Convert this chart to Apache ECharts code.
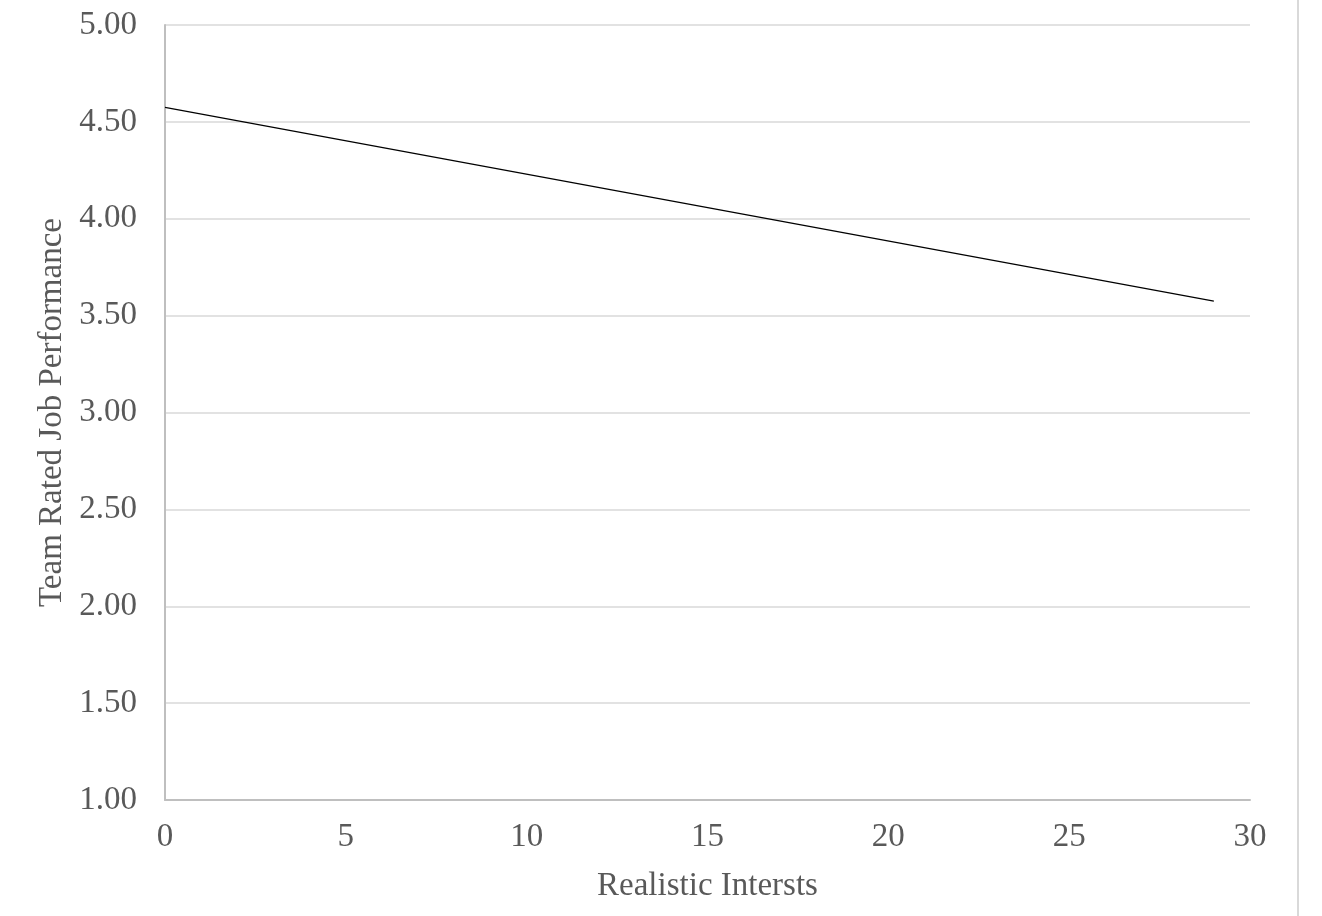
<!DOCTYPE html>
<html>
<head>
<meta charset="utf-8">
<script src="https://cdn.jsdelivr.net/npm/echarts@6/dist/echarts.min.js"></script>
<style>
  html, body { margin: 0; padding: 0; background: #fff; }
  #container { width: 1322px; height: 916px; }
</style>
</head>
<body>
<div id="container"></div>
<script>
// trend line end points
const interestValues = [0, 29];
const performanceValues = [4.575, 3.575];

const dom = document.getElementById("container");
const myChart = echarts.init(dom);

const serif = "'Liberation Serif', 'Times New Roman', serif";
const labelColor = "#595959";

const option = {
  backgroundColor: "#FFFFFF",
  animation: false,
  grid: {
    left: 165,
    right: 72,
    top: 25,
    bottom: 116,
  },
  xAxis: {
    type: "value",
    min: 0,
    max: 30,
    interval: 5,
    name: "Realistic Intersts",
    nameLocation: "middle",
    nameGap: 70,
    nameTextStyle: { fontFamily: serif, fontSize: 33, color: labelColor },
    axisLine: { show: true, lineStyle: { color: "#bfbfbf", width: 2 } },
    axisTick: { show: false },
    splitLine: { show: false },
    axisLabel: {
      fontFamily: serif,
      fontSize: 33,
      color: labelColor,
      margin: 21,
    },
  },
  yAxis: {
    type: "value",
    min: 1,
    max: 5,
    interval: 0.5,
    name: "Team Rated Job Performance",
    nameLocation: "middle",
    nameGap: 96,
    nameTextStyle: { fontFamily: serif, fontSize: 33, color: labelColor },
    axisLine: { show: true, lineStyle: { color: "#bfbfbf", width: 2 } },
    axisTick: { show: false },
    splitLine: { show: true, lineStyle: { color: "#d9d9d9", width: 1.5 } },
    axisLabel: {
      fontFamily: serif,
      fontSize: 33,
      color: labelColor,
      margin: 28,
      formatter: (v) => v.toFixed(2),
    },
  },
  graphic: [
    {
      type: "line",
      shape: { x1: 1298, y1: 0, x2: 1298, y2: 916 },
      style: { stroke: "#d9d9d9", lineWidth: 2 },
    },
  ],
  series: [
    {
      type: "line",
      data: interestValues.map((x, i) => [x, performanceValues[i]]),
      symbol: "none",
      lineStyle: { color: "#000000", width: 1.2 },
    },
  ],
};

myChart.setOption(option);
</script>
</body>
</html>
